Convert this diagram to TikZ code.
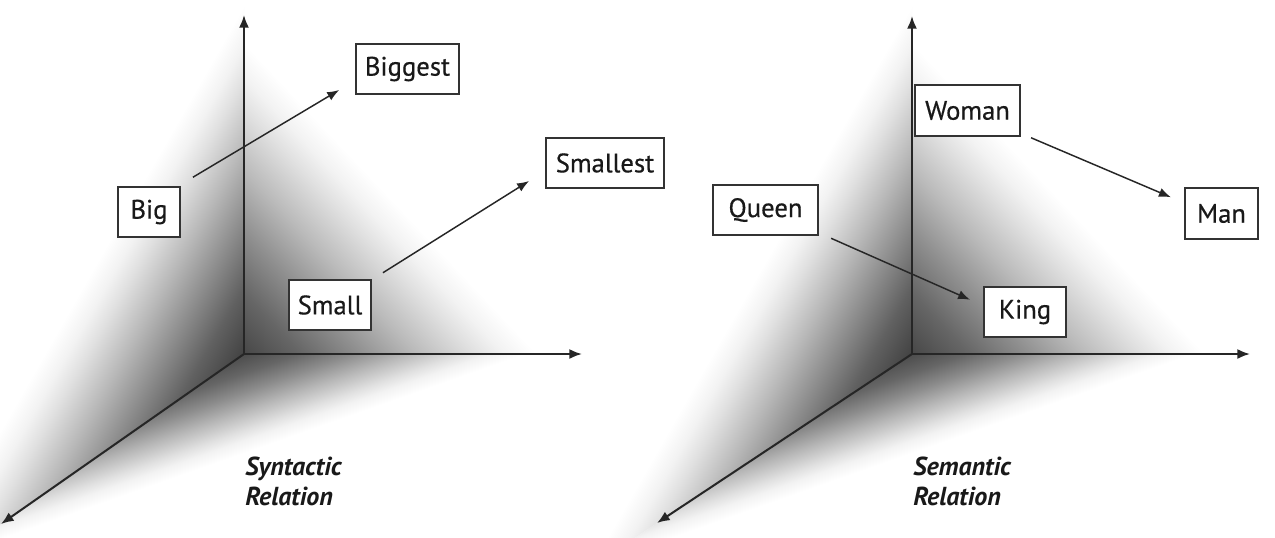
\documentclass[tikz,border=0pt]{standalone}
\usepackage{fontspec}
\setmainfont{PT Sans}
\newfontfamily\boxfont[FakeBold=0.5]{PT Sans}
\usetikzlibrary{arrows.meta,calc}
\pgfdeclarehorizontalshading{backwall}{1000pt}{color(0pt)=(black!72); color(31.5pt)=(black!60); color(63pt)=(black!44); color(94.5pt)=(black!27); color(126pt)=(black!12); color(142pt)=(black!5); color(160pt)=(white)}
\pgfdeclarehorizontalshading{leftwall}{1000pt}{color(0pt)=(black!74); color(25.5pt)=(black!62); color(51pt)=(black!45); color(76.5pt)=(black!28); color(102pt)=(black!12); color(115pt)=(black!5); color(130pt)=(white)}
\pgfdeclarehorizontalshading{floorwall}{1000pt}{color(0pt)=(black!70); color(13.5pt)=(black!60); color(27pt)=(black!45); color(40.5pt)=(black!28); color(54pt)=(black!12); color(61pt)=(black!5); color(70pt)=(white)}
\begin{document}
\begin{tikzpicture}[x=0.75pt,y=-0.75pt,
  axis/.style={line width=1.5pt, draw=black!85, -{Latex[length=9.5pt,width=7.5pt]}},
  conn/.style={line width=1.1pt, draw=black!85, -{Latex[length=9pt,width=7pt]}},
  word/.style={draw=black!80, line width=1.4pt, fill=white, inner sep=0pt, minimum height=38pt, font=\boxfont\fontsize{20}{24}\selectfont, text=black!90},
  rel/.style={anchor=north west, align=left, inner sep=0pt, font=\fontsize{19.5}{22.5}\selectfont\bfseries\itshape, text=black!90},
  shadenode/.style={inner sep=0pt, outer sep=0pt, anchor=west}]
\fill[white] (0,0) rectangle (1275,537);
\useasboundingbox (0,0) rectangle (1275,537);
% axes end points
\coordinate (O1) at (244,354);
\coordinate (Y1) at (244,15);
\coordinate (X1) at (582,354);
\coordinate (Z1) at (1,524);
\coordinate (O2) at (912,354);
\coordinate (Y2) at (912,16);
\coordinate (X2) at (1250,354);
\coordinate (Z2) at (657,523);
% shading, left panel
\begin{scope}
\clip (O1) -- (244,0) -- (640,0) -- (640,354) -- cycle;
\node[shadenode, rotate=43.3] (b1) at (O1) {\pgfuseshading{backwall}};
\end{scope}
\begin{scope}
\clip (O1) -- (244,0) -- (-200,0) -- (-200,665) -- cycle;
\node[shadenode, rotate=150.2] (l1) at (O1) {\pgfuseshading{leftwall}};
\end{scope}
\begin{scope}
\clip (O1) -- (640,354) -- (640,700) -- (-200,700) -- (-200,665) -- cycle;
\node[shadenode, rotate=-70.6] (f1) at (O1) {\pgfuseshading{floorwall}};
\end{scope}
% shading, right panel
\begin{scope}
\clip (O2) -- (912,0) -- (1300,0) -- (1300,354) -- cycle;
\node[shadenode, rotate=43.3] (b2) at (O2) {\pgfuseshading{backwall}};
\end{scope}
\begin{scope}
\clip (O2) -- (912,0) -- (600,0) -- (600,561) -- cycle;
\node[shadenode, rotate=150.2] (l2) at (O2) {\pgfuseshading{leftwall}};
\end{scope}
\begin{scope}
\clip (O2) -- (1300,354) -- (1300,700) -- (600,700) -- (600,561) -- cycle;
\node[shadenode, rotate=-70.6] (f2) at (O2) {\pgfuseshading{floorwall}};
\end{scope}
% axes
\draw[axis] (O1) -- (Y1);
\draw[axis] (O1) -- (X1);
\draw[axis] (O1) -- (Z1);
\draw[axis] (O2) -- (Y2);
\draw[axis] (O2) -- (X2);
\draw[axis] (O2) -- (Z2);
% word boxes
\node[word, minimum width=46.5pt] (big) at (149,212) {Big};
\node[word, minimum width=77pt] (biggest) at (407.5,69) {Biggest};
\node[word, minimum width=61.5pt] (small) at (330,305) {Small};
\node[word, minimum width=88.5pt] (smallest) at (605,163) {Smallest};
\node[word, minimum width=79pt] (woman) at (967.5,110.5) {Woman};
\node[word, minimum width=55pt] (man) at (1221.5,213.5) {Man};
\node[word, minimum width=79pt] (queen) at (765.5,210) {Queen};
\node[word, minimum width=61.5pt] (king) at (1025,312) {King};
% connectors
\draw[conn] ($(big.north east)+(12,-8.5)$) -- ($(biggest.west)+(-16,21)$);
\draw[conn] ($(small.north east)+(11,-6)$) -- ($(smallest.west)+(-16,18)$);
\draw[conn] ($(woman.south east)+(10,1)$) -- ($(man.north west)+(-13,10)$);
\draw[conn] ($(queen.south east)+(12,2)$) -- ($(king.north west)+(-13,14)$);
% relation labels
\node[rel] (syn) at (245,457) {Syntactic\\Relation};
\node[rel] (sem) at (913,457) {Semantic\\Relation};
\end{tikzpicture}
\end{document}
